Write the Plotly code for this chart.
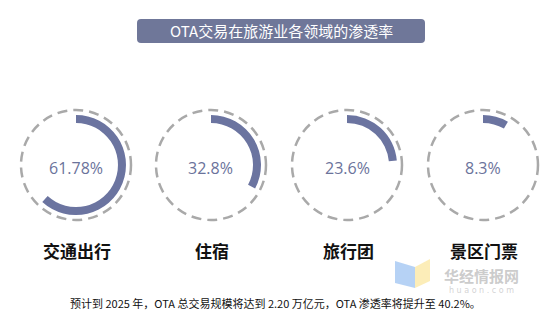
import plotly.graph_objects as go

categories = ["交通出行", "住宿", "旅行团", "景区门票"]
penetration = [61.78, 32.8, 23.6, 8.3]
title_text = "OTA交易在旅游业各领域的渗透率"
footnote = "预计到 2025 年，OTA 总交易规模将达到 2.20 万亿元，OTA 渗透率将提升至 40.2%。"

W, H = 554, 316
ARC = "#6b74a0"
BOX = "#6f7799"
DASH = "#a9a9a9"

def px(x):
    return x / W

def py(y):
    return (H - y) / H

centers_x = [76, 211, 347, 483]
cy = 165
r_out = 50
r_in = 42
r_dash = 55

fig = go.Figure()
shapes = []
annotations = []

for i, (cat, v) in enumerate(zip(categories, penetration)):
    cx = centers_x[i]
    fig.add_trace(go.Pie(
        values=[v, 100 - v],
        marker=dict(colors=[ARC, "rgba(0,0,0,0)"], line=dict(width=0)),
        hole=r_in / r_out,
        sort=False,
        direction="clockwise",
        rotation=0,
        textinfo="none",
        hoverinfo="skip",
        showlegend=False,
        domain=dict(x=[px(cx - r_out), px(cx + r_out)], y=[py(cy + r_out), py(cy - r_out)]),
    ))
    shapes.append(dict(type="circle", xref="paper", yref="paper",
                       x0=px(cx - r_dash), x1=px(cx + r_dash),
                       y0=py(cy + r_dash), y1=py(cy - r_dash),
                       line=dict(color=DASH, width=2.5, dash="10px,6px")))
    annotations.append(dict(x=px(cx), y=py(cy + 3), xref="paper", yref="paper",
                            text=f"{v}%", showarrow=False,
                            font=dict(family="Open Sans, Liberation Sans, Arial", size=16, color="#6b739b"),
                            xanchor="center", yanchor="middle"))
    annotations.append(dict(x=px(cx + 1), y=py(250), xref="paper", yref="paper",
                            text=f"<b>{cat}</b>", showarrow=False, borderpad=0,
                            font=dict(family="Noto Sans CJK SC", size=17, color="#111111"),
                            xanchor="center", yanchor="middle"))

# title box (rounded)
x0, x1, y0, y1, rr = 137, 425, 19, 43, 4
path = (f"M {px(x0+rr)},{py(y0)} L {px(x1-rr)},{py(y0)} Q {px(x1)},{py(y0)} {px(x1)},{py(y0+rr)} "
        f"L {px(x1)},{py(y1-rr)} Q {px(x1)},{py(y1)} {px(x1-rr)},{py(y1)} "
        f"L {px(x0+rr)},{py(y1)} Q {px(x0)},{py(y1)} {px(x0)},{py(y1-rr)} "
        f"L {px(x0)},{py(y0+rr)} Q {px(x0)},{py(y0)} {px(x0+rr)},{py(y0)} Z")
shapes.append(dict(type="path", xref="paper", yref="paper", path=path,
                   fillcolor=BOX, line=dict(width=0), layer="below"))
annotations.append(dict(x=px(281), y=py(31), xref="paper", yref="paper", text=title_text,
                        showarrow=False, xanchor="center", yanchor="middle",
                        font=dict(family="Noto Sans CJK SC", size=15, color="white")))

# footnote
annotations.append(dict(x=px(275), y=py(303), xref="paper", yref="paper", text=footnote,
                        showarrow=False, xanchor="center", yanchor="middle", borderpad=0,
                        font=dict(family="Noto Sans CJK SC", size=11, color="#111111")))

# watermark logo
def poly(pts, color):
    d = "M " + " L ".join(f"{px(a)},{py(b)}" for a, b in pts) + " Z"
    return dict(type="path", xref="paper", yref="paper", path=d, fillcolor=color,
                line=dict(width=0), layer="above", opacity=0.75)

shapes.append(poly([(395, 261), (415, 267), (415, 288), (395, 283)], "#9ec3f2"))
shapes.append(poly([(415, 267), (430, 259), (430, 281), (415, 288)], "#fbe7a0"))
annotations.append(dict(x=px(481), y=py(275), xref="paper", yref="paper", text="<b>华经情报网</b>",
                        showarrow=False, xanchor="center", yanchor="middle", borderpad=0,
                        font=dict(family="Noto Sans CJK SC", size=15, color="rgba(190,190,190,0.8)")))
annotations.append(dict(x=px(481), y=py(290), xref="paper", yref="paper", text="h u a o n . c o m",
                        showarrow=False, xanchor="center", yanchor="middle", borderpad=0,
                        font=dict(family="DejaVu Sans", size=8, color="rgba(200,200,200,0.8)")))

fig.update_layout(
    width=W, height=H,
    margin=dict(l=0, r=0, t=0, b=0),
    paper_bgcolor="white", plot_bgcolor="white",
    shapes=shapes, annotations=annotations,
)
fig.write_html("out.html")
